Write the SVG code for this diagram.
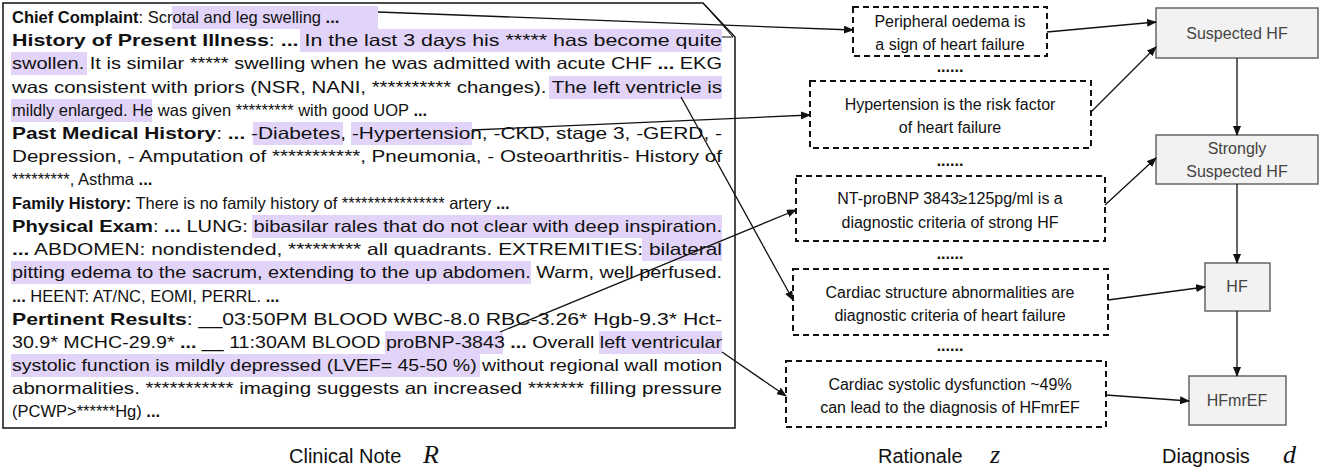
<svg xmlns="http://www.w3.org/2000/svg" width="1321" height="474" viewBox="0 0 1321 474">
<style>
.t{font-family:"Liberation Sans",Arial,sans-serif;font-size:16.5px;fill:#111}
.b{font-weight:bold}
.hl{fill:#e2d4f8}
.r{font-family:"Liberation Sans",Arial,sans-serif;font-size:16px;fill:#111;text-anchor:middle}
.d{font-family:"Liberation Sans",Arial,sans-serif;font-size:16px;fill:#444;text-anchor:middle}
.dash{fill:#fff;stroke:#111;stroke-width:2;stroke-dasharray:6 4}
.dg{fill:#f2f2f2;stroke:#666;stroke-width:1.5}
.c{stroke:#111;stroke-width:1.3;fill:none;marker-end:url(#a)}
.lab{font-family:"Liberation Sans",Arial,sans-serif;font-size:20px;fill:#111}
.m{font-family:"Liberation Serif",serif;font-style:italic;font-size:26px;fill:#111}
</style>
<defs><marker id="a" markerWidth="10" markerHeight="8" refX="9" refY="4" orient="auto" markerUnits="userSpaceOnUse"><path d="M0,0L10,4L0,8z" fill="#111"/></marker></defs>
<g id="note">
<path d="M3,3H703L735,37V428H3Z" fill="#fff" stroke="#111" stroke-width="1.5"/>
<path d="M703,3L733,37H722" fill="none" stroke="#111" stroke-width="1"/>
<g id="highlights">
<rect class="hl" x="172" y="6" width="206" height="23"/>
<rect class="hl" x="300" y="29" width="422" height="23"/>
<rect class="hl" x="11" y="52" width="76" height="23"/>
<rect class="hl" x="549" y="76" width="173" height="23"/>
<rect class="hl" x="11" y="99" width="141" height="23"/>
<rect class="hl" x="253" y="122" width="90" height="23"/>
<rect class="hl" x="351" y="122" width="121" height="23"/>
<rect class="hl" x="252" y="215" width="470" height="23"/>
<rect class="hl" x="642" y="238" width="80" height="23"/>
<rect class="hl" x="11" y="261" width="520" height="23"/>
<rect class="hl" x="385" y="331" width="118" height="23"/>
<rect class="hl" x="599" y="331" width="123" height="23"/>
<rect class="hl" x="11" y="354" width="469" height="23"/>
</g>
<text class="t" x="12" y="23"><tspan class="b">Chief Complaint</tspan>: Scrotal and leg swelling <tspan class="b">...</tspan></text>
<text class="t" x="12" y="46" textLength="710" lengthAdjust="spacingAndGlyphs"><tspan class="b">History of Present Illness</tspan>: <tspan class="b">...</tspan> In the last 3 days his ***** has become quite</text>
<text class="t" x="12" y="69" textLength="710" lengthAdjust="spacingAndGlyphs">swollen. It is similar ***** swelling when he was admitted with acute CHF <tspan class="b">...</tspan> EKG</text>
<text class="t" x="12" y="93" textLength="710" lengthAdjust="spacingAndGlyphs">was consistent with priors (NSR, NANI, ********** changes). The left ventricle is</text>
<text class="t" x="12" y="116">mildly enlarged. He was given ********* with good UOP <tspan class="b">...</tspan></text>
<text class="t" x="12" y="139" textLength="710" lengthAdjust="spacingAndGlyphs"><tspan class="b">Past Medical History</tspan>: <tspan class="b">...</tspan> -Diabetes, -Hypertension, -CKD, stage 3, -GERD, -</text>
<text class="t" x="12" y="162" textLength="710" lengthAdjust="spacingAndGlyphs">Depression, - Amputation of ***********, Pneumonia, - Osteoarthritis- History of</text>
<text class="t" x="12" y="185">*********, Asthma  <tspan class="b">...</tspan></text>
<text class="t" x="12" y="209"><tspan class="b">Family History:</tspan>  There is no family history of **************** artery <tspan class="b">...</tspan></text>
<text class="t" x="12" y="232" textLength="710" lengthAdjust="spacingAndGlyphs"><tspan class="b">Physical Exam</tspan>: <tspan class="b">...</tspan> LUNG: bibasilar rales that do not clear with deep inspiration.</text>
<text class="t" x="12" y="255" textLength="710" lengthAdjust="spacingAndGlyphs"><tspan class="b">...</tspan> ABDOMEN: nondistended, ********* all quadrants. EXTREMITIES: bilateral</text>
<text class="t" x="12" y="278" textLength="710" lengthAdjust="spacingAndGlyphs">pitting edema to the sacrum, extending to the up abdomen. Warm, well perfused.</text>
<text class="t" x="12" y="302"><tspan class="b">...</tspan> HEENT: AT/NC, EOMI, PERRL. <tspan class="b">...</tspan></text>
<text class="t" x="12" y="325" textLength="710" lengthAdjust="spacingAndGlyphs"><tspan class="b">Pertinent Results</tspan>:  __03:50PM BLOOD WBC-8.0 RBC-3.26* Hgb-9.3* Hct-</text>
<text class="t" x="12" y="348" textLength="710" lengthAdjust="spacingAndGlyphs">30.9* MCHC-29.9* <tspan class="b">...</tspan> __ 11:30AM BLOOD proBNP-3843 <tspan class="b">...</tspan> Overall left ventricular</text>
<text class="t" x="12" y="371" textLength="710" lengthAdjust="spacingAndGlyphs">systolic function is mildly depressed (LVEF= 45-50 %) without regional wall motion</text>
<text class="t" x="12" y="394" textLength="710" lengthAdjust="spacingAndGlyphs">abnormalities. *********** imaging suggests an increased ******* filling pressure</text>
<text class="t" x="12" y="417">(PCWP&gt;******Hg) <tspan class="b">...</tspan></text>
</g>
<g id="rationales">
<g id="r1"><rect class="dash" x="853" y="7" width="194" height="49"/><text class="r" x="950" y="27">Peripheral oedema is</text><text class="r" x="950" y="50">a sign of heart failure</text></g>
<g id="r2"><rect class="dash" x="810" y="81" width="281" height="67"/><text class="r" x="950" y="110">Hypertension is the risk factor</text><text class="r" x="950" y="133">of heart failure</text></g>
<g id="r3"><rect class="dash" x="796" y="176" width="309" height="65"/><text class="r" x="950" y="204">NT-proBNP 3843≥125pg/ml is a</text><text class="r" x="950" y="228">diagnostic criteria of strong HF</text></g>
<g id="r4"><rect class="dash" x="793" y="269" width="315" height="66"/><text class="r" x="950" y="298">Cardiac structure abnormalities are</text><text class="r" x="950" y="321">diagnostic criteria of heart failure</text></g>
<g id="r5"><rect class="dash" x="786" y="361" width="320" height="66"/><text class="r" x="950" y="390">Cardiac systolic dysfunction ~49%</text><text class="r" x="950" y="413">can lead to the diagnosis of HFmrEF</text></g>
<g class="r" style="font-weight:bold"><text x="950" y="72">......</text><text x="950" y="166">......</text><text x="950" y="259">......</text><text x="950" y="351">......</text></g>
</g>
<g id="diagnoses">
<g id="d1"><rect class="dg" x="1156" y="8" width="162" height="50"/><text class="d" x="1237" y="39">Suspected HF</text></g>
<g id="d2"><rect class="dg" x="1156" y="135" width="162" height="49"/><text class="d" x="1237" y="154">Strongly</text><text class="d" x="1237" y="177">Suspected HF</text></g>
<g id="d3"><rect class="dg" x="1205" y="263" width="65" height="48"/><text class="d" x="1237" y="292">HF</text></g>
<g id="d4"><rect class="dg" x="1189" y="376" width="97" height="49"/><text class="d" x="1237" y="406">HFmrEF</text></g>
</g>
<g id="connectors">
<path class="c" d="M378,12L853,30"/>
<path class="c" d="M472,130L810,115"/>
<path class="c" d="M681,97L793,300"/>
<path class="c" d="M500,332L796,210"/>
<path class="c" d="M722,352L786,396"/>
<path class="c" d="M1047,32L1156,22"/>
<path class="c" d="M1091,112L1156,47"/>
<path class="c" d="M1105,205L1156,158"/>
<path class="c" d="M1108,300L1205,287"/>
<path class="c" d="M1106,395L1189,401"/>
<path class="c" d="M1237,58V135"/>
<path class="c" d="M1237,184V263"/>
<path class="c" d="M1237,311V376"/>
</g>
<g id="labels">
<text class="lab" x="289" y="463">Clinical Note</text><text class="m" x="423" y="463">R</text>
<text class="lab" x="878" y="463">Rationale</text><text class="m" x="990" y="463">z</text>
<text class="lab" x="1162" y="463">Diagnosis</text><text class="m" x="1283" y="463">d</text>
</g>
</svg>
